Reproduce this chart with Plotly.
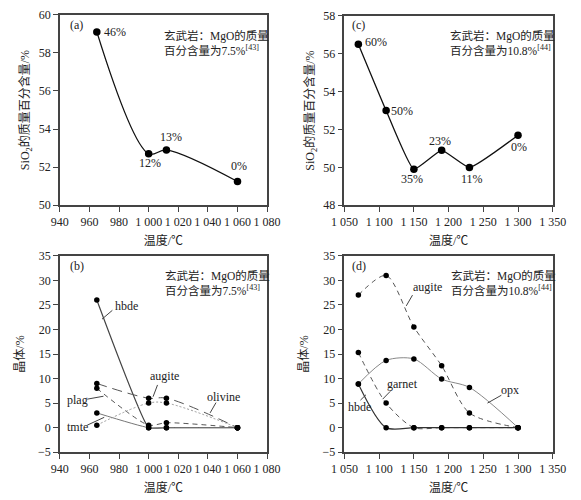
import plotly.graph_objects as go

# ---------------- data ----------------
# panel (a)
a_temp = [965, 1000, 1012, 1060]
a_sio2 = [59.1, 52.7, 52.9, 51.25]
a_lab = ["46%", "12%", "13%", "0%"]
a_lab_pos = [(977.5, 59.07), (1000.6, 52.2), (1015, 53.6), (1061, 52.05)]

# panel (c)
c_temp = [1070, 1110, 1150, 1190, 1230, 1300]
c_sio2 = [56.5, 53.0, 49.9, 50.9, 50.0, 51.7]
c_lab = ["60%", "50%", "35%", "23%", "11%", "0%"]
c_lab_pos = [(1095, 56.6), (1133, 53.0), (1147, 49.4), (1188, 51.4), (1233, 49.4), (1301, 51.1)]

# panel (b)
b_temp = [965, 1000, 1012, 1060]
b_hbde = [26, 0, 0, 0]
b_augite = [9, 6, 6, 0]
b_olivine = [0.5, 5, 5, 0]
b_plag = [8, 0.5, 1, 0]
b_tmte = [3, 0, 0, 0]

# panel (d)
d_temp = [1070, 1110, 1150, 1190, 1230, 1300]
d_augite = [27, 31, 20.5, 12.6, 3, 0]
d_opx = [8.9, 13.7, 14, 9.9, 8.2, 0]
d_garnet = [15.3, 5, 0, 0, 0, 0]
d_hbde = [8.9, 0, 0, 0, 0, 0]

# mineral labels: (text, label x, label y, leader end x, leader end y, leader start x, leader start y)
b_names = [
    ("hbde", 985, 24.8, 968.5, 22.1, 975.5, 23.9),
    ("augite", 1011, 10.6, 1003, 6.3, 1006, 8.7),
    ("olivine", 1050.5, 6.3, 1041.5, 3.0, 1045.5, 5.1),
    ("plag", 952, 5.6, 969.5, 6.4, 958.5, 5.8),
    ("tmte", 952, 0.15, 970, 2.1, 958.5, 0.5),
]
d_names = [
    ("augite", 1170, 28.7, 1139, 24.8, 1148, 27.0),
    ("garnet", 1133, 8.8, 1105, 5.8, 1116, 7.4),
    ("opx", 1288, 7.7, 1256, 5.0, 1276, 6.6),
    ("hbde", 1071, 4.2, 1081, 6.7, 1073, 5.6),
]

x_ticks_a = [940, 960, 980, 1000, 1020, 1040, 1060, 1080]
x_text_a = ["940", "960", "980", "1 000", "1 020", "1 040", "1 060", "1 080"]
x_ticks_c = [1050, 1100, 1150, 1200, 1250, 1300, 1350]
x_text_c = ["1 050", "1 100", "1 150", "1 200", "1 250", "1 300", "1 350"]
y_ticks_a = [50, 52, 54, 56, 58, 60]
y_ticks_c = [48, 50, 52, 54, 56, 58]
y_ticks_bd = [-5, 0, 5, 10, 15, 20, 25, 30, 35]
y_text_bd = ["\u22125", "0", "5", "10", "15", "20", "25", "30", "35"]

note_a = "玄武岩：MgO的质量<br>百分含量为7.5%<sup>[43]</sup>"
note_c = "玄武岩：MgO的质量<br>百分含量为10.8%<sup>[44]</sup>"
xtitle = "温度/℃"
ytitle_top = "SiO<sub>2</sub>的质量百分含量/%"
ytitle_bot = "晶体/%"

# ---------------- figure ----------------
FONT = "Liberation Serif, Noto Sans CJK SC, serif"
W, H = 581, 500
fig = go.Figure()

def px_x(p):
    return p / W

def px_y(p):
    return 1 - p / H

dom = {
    "a": ([49, 266], [8, 204]),
    "c": ([347, 565], [9, 204]),
    "b": ([49, 266], [256, 458]),
    "d": ([347, 565], [256, 458]),
}
axmap = {"a": ("x", "y"), "c": ("x2", "y2"), "b": ("x3", "y3"), "d": ("x4", "y4")}

def add_line(panel, xs, ys, color, width, dash, smooth, msize=6):
    xa, ya = axmap[panel]
    fig.add_trace(go.Scatter(
        x=xs, y=ys, xaxis=xa, yaxis=ya, mode="lines",
        line=dict(color=color, width=width, dash=dash, shape="spline", smoothing=smooth),
        showlegend=False, hoverinfo="skip"))
    fig.add_trace(go.Scatter(
        x=xs, y=ys, xaxis=xa, yaxis=ya, mode="markers",
        marker=dict(color="black", size=msize),
        showlegend=False, hoverinfo="skip"))

add_line("a", a_temp, a_sio2, "#111", 1.3, "solid", 1.0, 7.5)
add_line("c", c_temp, c_sio2, "#111", 1.3, "solid", 0.4, 7.5)

add_line("b", b_temp, b_hbde, "#444", 1.2, "solid", 0.35, 5.5)
add_line("b", b_temp, b_tmte, "#777", 1.0, "solid", 0.6, 5.5)
add_line("b", b_temp, b_augite, "#555", 1.0, "10px,6px", 1.0, 5.5)
add_line("b", b_temp, b_plag, "#555", 1.0, "5px,4px", 0.7, 5.5)
add_line("b", b_temp, b_olivine, "#999", 1.0, "2px,2px", 1.0, 5.5)

add_line("d", d_temp, d_augite, "#555", 1.0, "5px,4px", 0.8, 5.5)
add_line("d", d_temp, d_garnet, "#555", 1.0, "5px,4px", 0.8, 5.5)
add_line("d", d_temp, d_opx, "#888", 1.0, "solid", 0.8, 5.5)
add_line("d", d_temp, d_hbde, "#333", 1.2, "solid", 0.8, 5.5)

layout = dict(width=W, height=H, margin=dict(l=0, r=0, t=0, b=0),
              paper_bgcolor="white", plot_bgcolor="white",
              font=dict(family=FONT, size=12, color="#222"))

axis_common = dict(showline=True, linecolor="#444", linewidth=1.5, mirror=True,
                   ticks="outside", ticklen=5, tickwidth=1.2, tickcolor="#444",
                   showgrid=False, zeroline=False, tickfont=dict(family=FONT, size=12, color="#222"))

specs = {
    "a": ([940, 1080], x_ticks_a, x_text_a, [50, 60], y_ticks_a, [str(v) for v in y_ticks_a], ytitle_top, 6),
    "c": ([1050, 1350], x_ticks_c, x_text_c, [48, 58], y_ticks_c, [str(v) for v in y_ticks_c], ytitle_top, 6),
    "b": ([940, 1080], x_ticks_a, x_text_a, [-5, 35], y_ticks_bd, y_text_bd, ytitle_bot, 11),
    "d": ([1050, 1350], x_ticks_c, x_text_c, [-5, 35], y_ticks_bd, y_text_bd, ytitle_bot, 11),
}
for p, (xr, xt, xtt, yr, yt, ytt, ytl, ystand) in specs.items():
    xa, ya = axmap[p]
    xd, yd = dom[p]
    xkey = "xaxis" + xa[1:]
    ykey = "yaxis" + ya[1:]
    layout[xkey] = dict(axis_common, domain=[px_x(xd[0]), px_x(xd[1])], range=xr,
                        tickvals=xt, ticktext=xtt, anchor=ya,
                        title=dict(text=xtitle, font=dict(family=FONT, size=12), standoff=8))
    layout[ykey] = dict(axis_common, domain=[px_y(yd[1]), px_y(yd[0])], range=yr,
                        tickvals=yt, ticktext=ytt, anchor=xa,
                        title=dict(text=ytl, font=dict(family=FONT, size=12), standoff=ystand))

fig.update_layout(**layout)

ann = []
# point labels
for t, (x, y) in zip(a_lab, a_lab_pos):
    ann.append(dict(text=t, x=x, y=y, xref="x", yref="y", showarrow=False, font=dict(size=12)))
for t, (x, y) in zip(c_lab, c_lab_pos):
    ann.append(dict(text=t, x=x, y=y, xref="x2", yref="y2", showarrow=False, font=dict(size=12)))

# mineral names with leader lines
shapes = []
for names, p in ((b_names, "b"), (d_names, "d")):
    xa, ya = axmap[p]
    for t, lx, ly, ex, ey, sx, sy in names:
        ann.append(dict(text=t, x=lx, y=ly, xref=xa, yref=ya, showarrow=False, font=dict(size=12)))
        shapes.append(dict(type="line", x0=sx, y0=sy, x1=ex, y1=ey, xref=xa, yref=ya,
                           line=dict(color="#444", width=1)))

# notes
for p, note, lx, ty in (("a", note_a, 156, 21), ("c", note_c, 455, 21),
                        ("b", note_a, 157, 268), ("d", note_c, 456, 267)):
    ann.append(dict(text=note, x=px_x(lx), y=px_y(ty), xref="paper", yref="paper",
                    xanchor="left", yanchor="top", align="left", showarrow=False,
                    font=dict(size=11.5, color="#222")))

# panel letters
for lab, lx, cy in (("(a)", 58, 19), ("(c)", 353, 19), ("(b)", 58, 266), ("(d)", 353, 266)):
    ann.append(dict(text=lab, x=px_x(lx), y=px_y(cy), xref="paper", yref="paper",
                    xanchor="left", yanchor="middle", showarrow=False, font=dict(size=12)))

fig.update_layout(annotations=ann, shapes=shapes)
fig.write_html("out.html")
